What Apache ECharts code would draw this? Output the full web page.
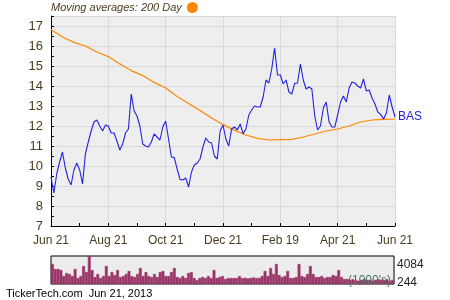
<!DOCTYPE html>
<html><head><meta charset="utf-8">
<script src="https://cdn.jsdelivr.net/npm/echarts@6/dist/echarts.min.js"></script>
<style>html,body{margin:0;padding:0;background:#fff}#c{width:450px;height:300px}</style>
</head><body><div id="c"></div>
<script>
const xTickLabels = ['Jun 21','Aug 21','Oct 21','Dec 21','Feb 19','Apr 21','Jun 21'];
const seriesName = 'BAS';
const maName = 'Moving averages: 200 Day';
const volumeUnitLabel = "(1000's)";
const footerText = 'TickerTech.com  Jun 21, 2013';
const volumeTickLabels = [244, 4084];

const priceValues = [
 9.45, 8.65, 9.6, 10.2, 10.7, 9.9, 9.35, 9.05, 9.8, 10.15,
 9.8, 9.1, 10.6, 11.2, 11.75, 12.2, 12.3, 12.0, 11.75, 12.05,
 12.0, 11.65, 11.65, 11.25, 10.8, 11.1, 11.65, 11.85, 13.6, 12.75,
 12.5, 12.0, 11.1, 11.0, 10.95, 11.2, 11.6, 11.45, 11.3, 11.95,
 12.25, 11.35, 10.45, 10.42, 9.85, 9.33, 9.3, 9.4, 8.95, 9.7,
 10.05, 10.15, 10.35, 10.95, 11.4, 11.2, 11.15, 10.5, 10.35, 11.75,
 12.05, 11.35, 11.0, 11.85, 11.95, 11.8, 12.1, 11.62, 11.85, 12.55,
 12.8, 13.0, 12.95, 12.95, 13.45, 14.3, 14.15, 14.85, 15.9, 14.55,
 14.55, 14.1, 14.3, 13.7, 13.6, 14.13, 14.15, 15.1, 14.3, 13.85,
 13.95, 13.85, 12.5, 11.8, 12.0, 12.9, 13.2, 12.2, 11.95, 11.95,
 12.55, 13.2, 13.5, 13.2, 13.9, 14.2, 14.15, 14.0, 13.9, 14.35,
 13.75, 13.8, 13.4, 13.1, 12.7, 12.58, 12.35, 12.65, 13.55, 12.95,
 12.45
];

// 200-day moving average, read every 4th session
const ma200Values = [
 16.83, 16.45, 16.18, 16.0, 15.7, 15.47, 15.1, 14.77, 14.52, 14.18,
 13.9, 13.48, 13.13, 12.78, 12.4, 12.07, 11.78, 11.55, 11.38, 11.3,
 11.32, 11.33, 11.45, 11.6, 11.75, 11.85, 12.0, 12.2, 12.3, 12.33,
 12.35
];
const maEvery = 4;

// volume in thousands
const volumeValues = [
 2920, 2190, 2190, 2040, 1170, 1600, 1460, 1170, 2190, 880,
 1170, 2630, 1750, 4084, 2040, 1020, 1460, 880, 1170, 2630,
 1170, 1750, 1310, 2040, 1020, 1170, 1460, 1900, 1170, 1020,
 1460, 2340, 1170, 1750, 1170, 1020, 1460, 1020, 1750, 1900,
 1170, 1170, 1750, 2340, 1020, 880, 1170, 880, 1600, 1750,
 880, 580, 880, 1020, 880, 1170, 880, 2040, 880, 1020,
 1170, 730, 880, 880, 880, 880, 1170, 850, 900, 820,
 880, 950, 860, 900, 1170, 1900, 1170, 2340, 1460, 2920,
 1310, 1020, 1170, 1900, 880, 880, 1020, 2920, 1170, 1020,
 1460, 2630, 1460, 1020, 1020, 1170, 880, 1020, 1020, 1310,
 1170, 2040, 1020, 730, 730, 620, 700, 600, 480, 620,
 700, 600, 620, 480, 600, 700, 620, 600, 700, 480,
 600
];

const lastIndex = priceValues.length - 1;
const labelStep = lastIndex / (xTickLabels.length - 1);
const axisText = '#4a3b1e';
const FONT = '"Liberation Sans", Arial, sans-serif';

const chart = echarts.init(document.getElementById('c'), null, {renderer: 'canvas'});
chart.setOption({
  animation: false,
  textStyle: {fontFamily: FONT},
  legend: {
    data: [{name: maName, icon: 'circle'}],
    left: 51, top: 2, padding: 0, align: 'right',
    itemWidth: 11, itemHeight: 11,
    textStyle: {fontStyle: 'italic', fontSize: 11, color: axisText, fontFamily: FONT}
  },
  grid: [
    {left: 51, top: 16, width: 344, height: 210, show: true, backgroundColor: '#eeeeee', borderWidth: 0},
    {left: 51, top: 256, width: 343, height: 28, show: true, backgroundColor: '#ececec', borderColor: '#000', borderWidth: 1}
  ],
  xAxis: [
    {
      type: 'value', gridIndex: 0, min: 0, max: lastIndex, interval: labelStep,
      axisLine: {show: true, lineStyle: {color: '#000', width: 1}},
      axisTick: {show: true, inside: true, length: 3, lineStyle: {color: '#000'}},
      minorTick: {show: true, splitNumber: 2, length: 3, lineStyle: {color: '#000'}},
      axisLabel: {color: axisText, fontSize: 12, margin: 9, fontFamily: FONT,
        formatter: v => xTickLabels[Math.round(v / labelStep)] || ''},
      splitLine: {show: true, lineStyle: {color: '#d9d9d9', width: 1}}
    },
    {
      type: 'category', gridIndex: 1, data: volumeValues.map((_, i) => i),
      boundaryGap: true, show: false
    }
  ],
  yAxis: [
    {
      type: 'value', gridIndex: 0, min: 7, max: 17.5, interval: 1,
      axisLine: {show: true, lineStyle: {color: '#000', width: 1}},
      axisTick: {show: false},
      axisLabel: {color: axisText, fontSize: 13, margin: 8, fontFamily: FONT,
        formatter: v => (Number.isInteger(v) ? String(v) : '')},
      splitLine: {show: true, lineStyle: {color: '#d9d9d9', width: 1}}
    },
    {
      type: 'value', gridIndex: 0, min: 7, max: 17.5, interval: 0.5, position: 'left',
      axisLine: {show: false},
      axisTick: {show: true, inside: true, length: 3, lineStyle: {color: '#000'}},
      axisLabel: {show: false},
      splitLine: {show: false}
    },
    {
      type: 'value', gridIndex: 1, min: 0, max: volumeTickLabels[1], position: 'right',
      axisLine: {show: false}, axisTick: {show: false}, splitLine: {show: false},
      axisLabel: {
        customValues: volumeTickLabels, color: '#222', fontSize: 12, margin: 3, fontFamily: FONT,
        formatter: v => (v === volumeTickLabels[1] ? '{hi|' + v + '}' : '{lo|' + v + '}'),
        rich: {hi: {padding: [18, 0, 0, 0], fontSize: 12, color: '#222'}, lo: {fontSize: 12, color: '#222'}}
      }
    }
  ],
  series: [
    {
      name: maName, type: 'line', xAxisIndex: 0, yAxisIndex: 0,
      data: ma200Values.map((v, k) => [k * maEvery, v]),
      showSymbol: false, smooth: false, color: '#ff8800',
      lineStyle: {color: '#ff8800', width: 1.2}, z: 3
    },
    {
      name: seriesName, type: 'line', xAxisIndex: 0, yAxisIndex: 0,
      data: priceValues.map((v, i) => [i, v]),
      showSymbol: false, color: '#2222dd',
      lineStyle: {color: '#2222dd', width: 1.1}, z: 4,
      endLabel: {show: true, formatter: seriesName, color: '#2222dd', fontSize: 12, distance: 3, fontFamily: FONT}
    },
    {
      name: 'Volume', type: 'bar', xAxisIndex: 1, yAxisIndex: 2,
      data: volumeValues, barCategoryGap: '0%',
      itemStyle: {color: '#993366', borderColor: '#993366', borderWidth: 0.6},
      silent: true
    }
  ],
  graphic: [
    {type: 'text', left: 348, top: 275, z: 100,
      style: {text: volumeUnitLabel, fill: '#4f6f5f', font: '12px ' + FONT}},
    {type: 'text', left: 6, top: 288, z: 100,
      style: {text: footerText, fill: '#000', font: '11px ' + FONT}}
  ]
});
</script>
</body></html>
